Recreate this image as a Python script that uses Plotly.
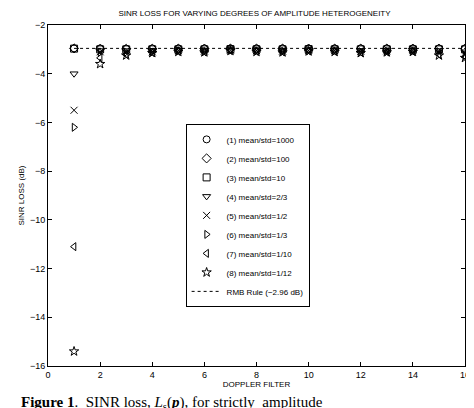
import plotly.graph_objects as go

filters = list(range(1, 17))
labels = ["(1) mean/std=1000", "(2) mean/std=100", "(3) mean/std=10", "(4) mean/std=2/3",
          "(5) mean/std=1/2", "(6) mean/std=1/3", "(7) mean/std=1/10", "(8) mean/std=1/12"]
symbols = ["circle-open", "diamond-open", "square-open", "triangle-down-open",
           "x-thin-open", "triangle-right-open", "triangle-left-open", "star-open"]
s1 = [-2.96, -2.96, -2.97, -2.96, -2.96, -2.96, -2.96, -2.96, -2.96, -2.96, -2.96, -2.96, -2.96, -2.96, -2.96, -2.96]
s2 = [-2.96, -2.98, -2.98, -2.98, -2.97, -2.97, -2.97, -2.97, -2.97, -2.97, -2.97, -2.97, -2.97, -2.97, -2.97, -2.98]
s3 = [-2.97, -3.0, -3.0, -3.0, -3.0, -3.0, -2.99, -3.0, -3.0, -2.99, -3.0, -3.0, -3.0, -3.0, -3.0, -3.0]
s4 = [-4.0, -3.05, -3.05, -3.05, -3.03, -3.05, -3.02, -3.03, -3.05, -3.02, -3.03, -3.05, -3.05, -3.03, -3.05, -3.1]
s5 = [-5.5, -3.1, -3.08, -3.1, -3.05, -3.07, -3.03, -3.05, -3.07, -3.04, -3.05, -3.08, -3.06, -3.05, -3.08, -3.2]
s6 = [-6.2, -3.12, -3.12, -3.1, -3.06, -3.08, -3.04, -3.06, -3.08, -3.05, -3.06, -3.1, -3.08, -3.06, -3.1, -3.25]
s7 = [-11.1, -3.35, -3.2, -3.12, -3.08, -3.1, -3.05, -3.08, -3.1, -3.06, -3.08, -3.12, -3.1, -3.08, -3.2, -3.3]
s8 = [-15.4, -3.6, -3.25, -3.15, -3.1, -3.12, -3.06, -3.1, -3.12, -3.08, -3.1, -3.15, -3.12, -3.1, -3.25, -3.35]
rmb = -2.96

fig = go.Figure()
for lab, sym, ys in zip(labels, symbols, [s1, s2, s3, s4, s5, s6, s7, s8]):
    fig.add_trace(go.Scatter(x=filters, y=ys, mode="markers", name=lab,
                             marker=dict(symbol=sym, size=7, color="black",
                                         line=dict(width=1, color="black"))))
fig.add_trace(go.Scatter(x=[1, 16], y=[rmb, rmb], mode="lines", name="RMB Rule (\u22122.96 dB)",
                         line=dict(color="black", width=1, dash="dot")))

ax = dict(showgrid=False, zeroline=False, mirror="ticks", ticks="inside", ticklen=4,
          linecolor="black", linewidth=1, tickcolor="black",
          tickfont=dict(family="Liberation Sans", size=9, color="black"))
fig.update_layout(
    width=474, height=408, paper_bgcolor="white", plot_bgcolor="white",
    margin=dict(l=33, r=14, t=16, b=50),
    title=dict(text="SINR LOSS FOR VARYING DEGREES OF AMPLITUDE HETEROGENEITY",
               x=0.52, y=0.993, xanchor="center", yanchor="top",
               font=dict(family="Liberation Sans", size=8, color="black")),
    xaxis=dict(ax, range=[0, 16], dtick=2,
               title=dict(text="DOPPLER FILTER", standoff=0,
                          font=dict(family="Liberation Sans", size=8, color="black"))),
    yaxis=dict(ax, range=[-16, -2], dtick=2,
               title=dict(text="SINR LOSS (dB)", standoff=4,
                          font=dict(family="Liberation Sans", size=8, color="black"))),
    legend=dict(x=0.33, y=0.71, xanchor="left", yanchor="top", bordercolor="black",
                borderwidth=1, bgcolor="white", tracegroupgap=0,
                font=dict(family="Liberation Sans", size=8, color="black")),
    showlegend=True,
)
fig.add_annotation(text="<b>Figure 1</b>.  SINR loss, <i>L</i><sub>s</sub>(<b><i>p</i></b>), for strictly  amplitude",
                   xref="paper", yref="paper", x=-0.07, y=-0.142, xanchor="left", yanchor="bottom",
                   showarrow=False, font=dict(family="Liberation Serif", size=15, color="black"))
fig.write_html("out.html")
